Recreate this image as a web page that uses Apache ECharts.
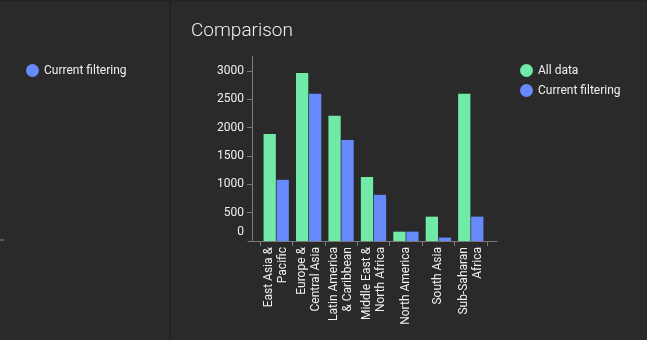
<!DOCTYPE html>
<html>
<head>
<meta charset="utf-8">
<script src="https://cdn.jsdelivr.net/npm/echarts@6/dist/echarts.min.js"></script>
<style>
html,body{margin:0;padding:0;background:#2a2a2a;}
#c{width:647px;height:340px;}
</style>
</head>
<body>
<div id="c"></div>
<script>
const categories = [
  'East Asia &\nPacific',
  'Europe &\nCentral Asia',
  'Latin America\n& Caribbean',
  'Middle East &\nNorth Africa',
  'North America',
  'South Asia',
  'Sub-Saharan\nAfrica'
];
const allData = [1890, 2965, 2210, 1130, 165, 430, 2600];
const currentFiltering = [1080, 2600, 1785, 815, 165, 60, 430];
const yTicks = [0, 500, 1000, 1500, 2000, 2500, 3000];
const yMax = 3266;

const GREEN = '#70eaa6';
const BLUE = '#6689fc';
const TXT = '#f0f0f0';
const AX = '#7a7a7a';
const FONT = 'Roboto, "Noto Sans", sans-serif';

const chart = echarts.init(document.getElementById('c'), null, {renderer: 'canvas'});
chart.setOption({
  backgroundColor: '#2a2a2a',
  animation: false,
  textStyle: {fontFamily: FONT},
  title: {
    text: 'Comparison',
    left: 186, top: 17,
    textStyle: {color: TXT, fontSize: 19, fontWeight: 300, fontFamily: FONT}
  },
  graphic: [
    {type: 'rect', shape: {x: 169, y: 0, width: 2, height: 340}, style: {fill: '#232323'}, silent: true},
    {type: 'rect', shape: {x: 0, y: 0, width: 647, height: 1}, style: {fill: '#232323'}, silent: true},
    {type: 'rect', shape: {x: 0, y: 239.5, width: 4, height: 1}, style: {fill: '#8a8a8a'}, silent: true}
  ],
  legend: [
    {
      data: ['Current filtering'],
      left: 21, top: 59, orient: 'vertical',
      icon: 'circle', itemWidth: 13, itemHeight: 13, itemGap: 7,
      textStyle: {color: TXT, fontSize: 12, fontWeight: 'normal', fontFamily: FONT}
    },
    {
      data: ['All data', 'Current filtering'],
      left: 515, top: 59, orient: 'vertical',
      icon: 'circle', itemWidth: 13, itemHeight: 13, itemGap: 7,
      textStyle: {color: TXT, fontSize: 12, fontWeight: 'normal', fontFamily: FONT}
    }
  ],
  grid: [
    {left: 260, right: 160, top: 56, bottom: 99, containLabel: false},
    {left: 248, right: 150, top: 56, bottom: 99, containLabel: false}
  ],
  xAxis: [
    {
      type: 'category', gridIndex: 0, data: categories,
      axisLine: {show: false},
      axisTick: {show: true, length: 5, lineStyle: {color: AX}},
      axisLabel: {
        rotate: 90, interval: 0, margin: 6, color: TXT, fontSize: 12,
        fontFamily: FONT, lineHeight: 14, align: 'right'
      }
    },
    {
      type: 'value', gridIndex: 1, min: 0, max: 1,
      axisLine: {show: true, lineStyle: {color: AX, width: 1}},
      axisTick: {show: false}, axisLabel: {show: false}, splitLine: {show: false}
    }
  ],
  yAxis: [
    {
      type: 'value', gridIndex: 0, min: 0, max: yMax, interval: 500, offset: 8,
      axisLine: {show: true, lineStyle: {color: AX}},
      axisTick: {show: true, length: 5, lineStyle: {color: AX}, customValues: yTicks.slice(1)},
      splitLine: {show: false},
      axisLabel: {
        color: TXT, fontSize: 12, fontFamily: FONT, margin: 8,
        customValues: yTicks,
        formatter: v => v === 0 ? '{z|0}' : String(v),
        rich: {z: {color: TXT, fontSize: 12, fontFamily: FONT, padding: [0, 0, 19, 0]}}
      }
    },
    {type: 'value', gridIndex: 1, show: false}
  ],
  series: [
    {
      name: 'All data', type: 'bar', xAxisIndex: 0, yAxisIndex: 0,
      data: allData, itemStyle: {color: GREEN},
      barCategoryGap: '22%', barGap: '6%'
    },
    {
      name: 'Current filtering', type: 'bar', xAxisIndex: 0, yAxisIndex: 0,
      data: currentFiltering, itemStyle: {color: BLUE},
      barCategoryGap: '22%', barGap: '6%'
    }
  ]
});
</script>
</body>
</html>
